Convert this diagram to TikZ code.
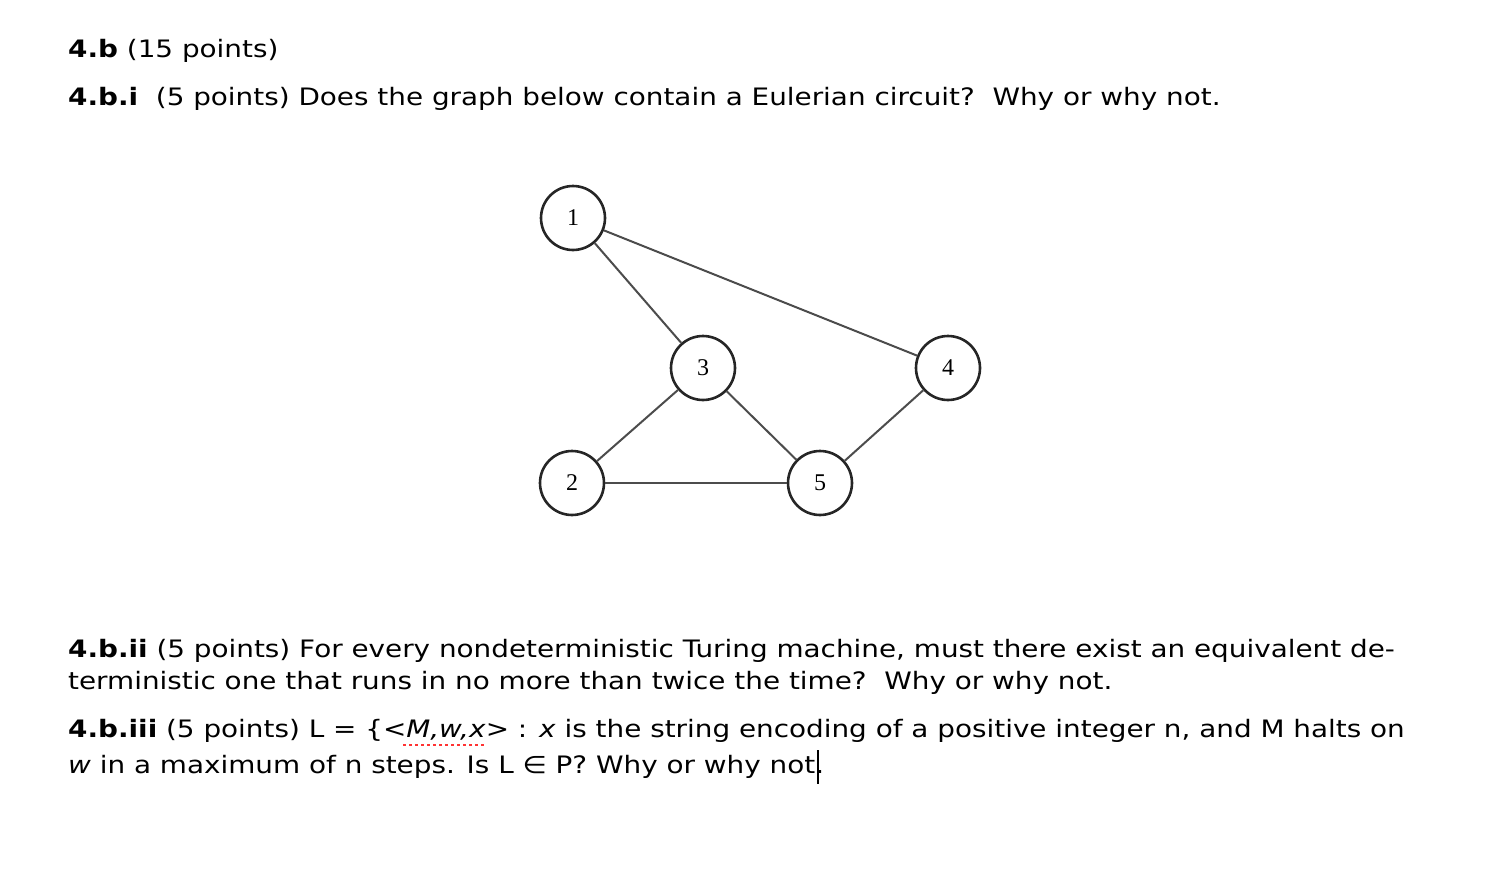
\documentclass[tikz,border=0pt]{standalone}
\usepackage{fontspec}
\setmainfont{DejaVu Sans}[FakeStretch=1.16]
\newfontfamily\numfont{Liberation Serif}
\begin{document}
\begin{tikzpicture}[x=1pt,y=-1pt,
  txt/.style={anchor=base west,inner sep=0pt,font=\fontsize{24}{28}\selectfont},
  vtx/.style={circle,draw=black!85,line width=2.6pt,minimum size=64pt,inner sep=0pt,fill=white,font=\numfont\fontsize{24}{26}\selectfont},
  edge/.style={draw=black!70,line width=2pt}]
\useasboundingbox (0,0) rectangle (1502,878);
\node[txt] (t1) at (68,57) {\textbf{4.b} (15 points)};
\node[txt] (t2) at (68,105) {\textbf{4.b.i}\ \ (5 points) Does the graph below contain a Eulerian circuit?\ \ Why or why not.};
\node[txt] (t3) at (68,657) {\textbf{4.b.ii} (5 points) For every nondeterministic Turing machine, must there exist an equivalent de-};
\node[txt] (t4) at (68,689) {terministic one that runs in no more than twice the time?\ \ Why or why not.};
\node[txt] (t5) at (68,737) {\textbf{4.b.iii} (5 points) L = \{<\textit{M,w,x}> : \textit{x} is the string encoding of a positive integer n, and M halts on};
\node[txt] (t6) at (68,773) {\textit{w} in a maximum of n steps. Is L ∈ P? Why or why not.};
\coordinate (c1) at (818,750); \coordinate (c2) at (818,784);
\draw[line width=1.2pt] (c1) -- (c2);
\coordinate (u1) at (403,745); \coordinate (u2) at (484,745);
\draw[red!80,line width=2pt,dash pattern=on 3pt off 3pt] (u1) -- (u2);
\node[vtx] (n1) at (573,218) {1};
\node[vtx] (n3) at (703,368) {3};
\node[vtx] (n4) at (948,368) {4};
\node[vtx] (n2) at (572,483) {2};
\node[vtx] (n5) at (820,483) {5};
\draw[edge] (n1) -- (n3);
\draw[edge] (n1) -- (n4);
\draw[edge] (n3) -- (n2);
\draw[edge] (n3) -- (n5);
\draw[edge] (n2) -- (n5);
\draw[edge] (n5) -- (n4);
\end{tikzpicture}
\end{document}
